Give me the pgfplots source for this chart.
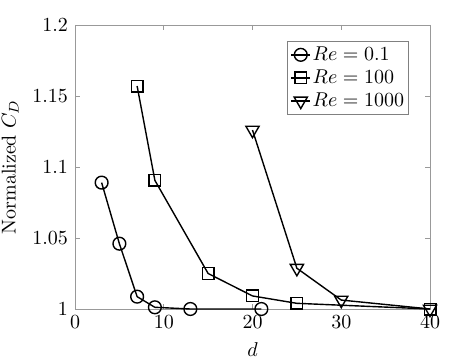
\documentclass[border=0pt]{standalone}
\usepackage{pgfplots}
\pgfplotsset{compat=1.18}
\usetikzlibrary{calc}
\begin{document}
\begin{tikzpicture}
\begin{axis}[
  scale only axis, width=177.5pt, height=142pt,
  xmin=0, xmax=40, ymin=1, ymax=1.2,
  xtick={0,10,20,30,40},
  ytick={1,1.05,1.1,1.15,1.2},
  yticklabels={1,1.05,1.1,1.15,1.2},
  tick align=inside,
  major tick length=2.5pt,
  axis line style={black!40},
  every tick/.style={black!40},
  xlabel={$d$}, ylabel={Normalized $C_D$},
  clip=false,
  legend style={at={(0.941,0.944)}, anchor=north east, draw=black!50, inner xsep=1.5pt, inner ysep=1pt,
    nodes={inner xsep=0.8pt, inner ysep=1.6pt},
    cells={anchor=west}},
  legend cell align=left,
  legend image code/.code={\draw[mark repeat=2,mark phase=2] plot coordinates {(0cm,0cm)(0.17cm,0cm)(0.34cm,0cm)};},
  every axis plot/.append style={black, line width=0.7pt, mark options={solid, fill=white}},
]
\addplot[mark=o, mark size=3.2pt] coordinates {(3,1.089)(5,1.046)(7,1.0087)(9,1.0012)(13,1.0)(21,1.0)};
\addlegendentry{$Re = 0.1$}
\addplot[mark=square, mark size=2.9pt] coordinates {(7,1.157)(9,1.0906)(15,1.025)(20,1.0092)(25,1.004)(40,1.0)};
\addlegendentry{$Re = 100$}
\addplot[mark=triangle, mark size=3.8pt, mark options={rotate=180, solid, fill=white}] coordinates {(20,1.126)(25,1.0287)(30,1.0063)(40,1.0)};
\addlegendentry{$Re = 1000$}
\end{axis}
\pgfresetboundingbox
\path ($(current axis.south west)+(-37.5pt,-26.5pt)$) rectangle ($(current axis.north east)+(22pt,12.5pt)$);
\end{tikzpicture}
\end{document}
